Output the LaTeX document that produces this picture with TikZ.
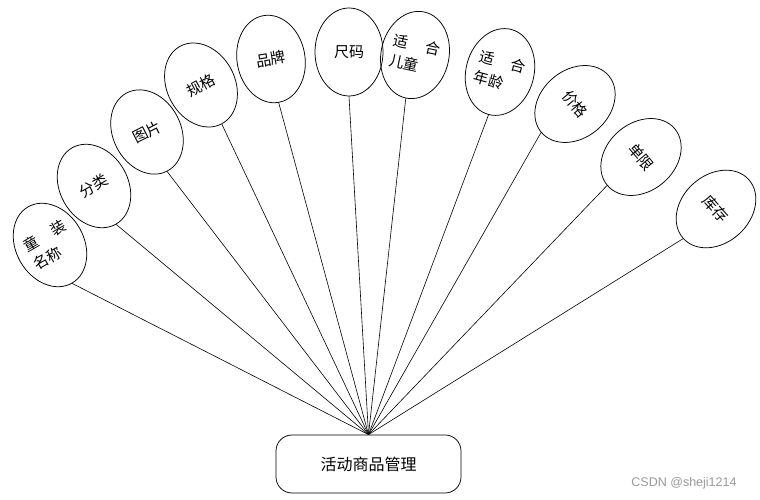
\documentclass[tikz,border=0pt]{standalone}
\usepackage{fontspec}
\setmainfont{Noto Sans CJK SC}
\newfontfamily\wmfont{Liberation Sans}
\usepackage{tikz}
\usetikzlibrary{positioning,shapes.geometric}

\begin{document}
\begin{tikzpicture}[
  x=1pt, y=1pt,
  font=\fontsize{15}{21}\selectfont,
  attr/.style={draw, ellipse, line width=0.75pt, minimum width=68pt,
               minimum height=88pt, inner sep=0pt, align=left},
  hubbox/.style={draw, rounded corners=16pt, line width=0.75pt,
                 minimum width=185pt, minimum height=58pt,
                 font=\fontsize{16}{20}\selectfont},
  link/.style={line width=0.6pt}]
\useasboundingbox (0,0) rectangle (760,500);

% entity
\node[hubbox] (hub) at (368.5,36) {活动商品管理};

% attributes, left to right
\node[attr, rotate=30]  (name)  at (50,255)  {童\hspace{1.1em}装\\名称};
\node[attr, rotate=30]  (cat)   at (94,314)  {分类};
\node[attr, rotate=27]  (pic)   at (147,368) {图片};
\node[attr, rotate=28]  (spec)  at (201,415) {规格};
\node[attr, rotate=10]  (brand) at (271,441) {品牌};
\node[attr]             (size)  at (349,448) {尺码};
\node[attr, rotate=-12] (kids)  at (415,445) {适\hspace{1.2em}合\\儿童};
\node[attr, rotate=-15] (age)   at (500,428) {适\hspace{1.2em}合\\年龄};
\node[attr, rotate=-50] (price) at (575,396) {价格};
\node[attr, rotate=-50] (limit) at (641,343) {单限};
\node[attr, rotate=-48] (stock) at (716,291) {库存};

\foreach \a in {name, cat, pic, spec, brand, size, kids, age, price, limit, stock}
  \draw[link] (hub.north) -- (\a.south);

% watermark
\node[text=black!40, font=\wmfont\fontsize{12.5}{14}\selectfont] (wm) at (684,17) {CSDN @sheji1214};
\end{tikzpicture}
\end{document}
